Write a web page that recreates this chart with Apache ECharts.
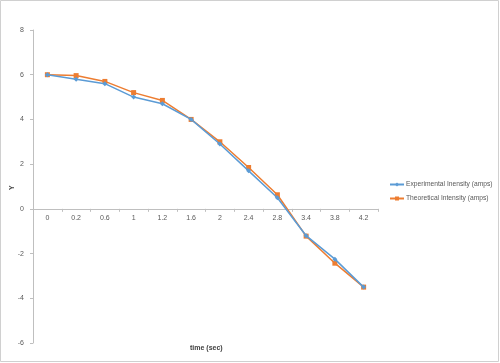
<!DOCTYPE html>
<html><head><meta charset="utf-8">
<script src="https://cdn.jsdelivr.net/npm/echarts@6/dist/echarts.min.js"></script>
<style>html,body{margin:0;padding:0;background:#fff}#c{width:500px;height:363px}</style>
</head><body><div id="c"></div>
<script>
const categories = ['0','0.2','0.6','1','1.2','1.6','2','2.4','2.8','3.4','3.8','4.2'];
const experimental = [6.0, 5.8, 5.6, 5.0, 4.7, 4.0, 2.9, 1.7, 0.5, -1.2, -2.25, -3.5];
const theoretical = [6.0, 5.96, 5.7, 5.2, 4.85, 4.0, 3.0, 1.85, 0.63, -1.22, -2.43, -3.5];
const yTicks = {min: -6, max: 8, interval: 2};

const chart = echarts.init(document.getElementById('c'), null, {renderer: 'canvas'});
const fam = 'Liberation Sans, Arial, sans-serif';
const labelStyle = {color: '#595959', fontSize: 7, fontFamily: fam};
const gridTop = 30, gridBottom = 20, H = 363;
const zeroOffset = -((H - gridBottom) - gridTop) * (0 - yTicks.min) / (yTicks.max - yTicks.min);
chart.setOption({
  animation: false,
  backgroundColor: '#fff',
  graphic: [
    {type: 'rect', shape: {x: 0.5, y: 0.5, width: 498, height: 361}, style: {fill: 'none', stroke: '#D0D0D0', lineWidth: 1}, silent: true},
    {type: 'text', left: 190, top: 345, style: {text: 'time (sec)', fill: '#404040', font: 'bold 7px ' + fam}, silent: true},
    {type: 'text', x: 9, y: 190, rotation: Math.PI / 2, style: {text: 'Y', fill: '#404040', font: 'bold 7px ' + fam}, silent: true}
  ],
  grid: {left: 33, right: 122, top: gridTop, bottom: gridBottom, containLabel: false, outerBoundsMode: 'none'},
  legend: {
    orient: 'vertical', left: 389, top: 181, padding: 0, itemWidth: 14, itemHeight: 5, itemGap: 7,
    textStyle: {color: '#595959', fontSize: 6.7, fontFamily: fam, padding: [0, 0, 0, -3]},
    data: ['Experimental Inensity (amps)', 'Theoretical Intensity (amps)']
  },
  xAxis: {
    type: 'category', data: categories, boundaryGap: true,
    offset: zeroOffset,
    axisLine: {onZero: false, lineStyle: {color: '#BFBFBF', width: 1}},
    axisTick: {show: true, length: 3, lineStyle: {color: '#BFBFBF'}},
    axisLabel: Object.assign({margin: 6, interval: 0}, labelStyle),
    splitLine: {show: false}
  },
  yAxis: {
    type: 'value', min: yTicks.min, max: yTicks.max, interval: yTicks.interval,
    axisLine: {show: true, lineStyle: {color: '#BFBFBF', width: 1}},
    axisTick: {show: true, length: 3, lineStyle: {color: '#BFBFBF'}},
    axisLabel: Object.assign({margin: 9}, labelStyle),
    splitLine: {show: false}
  },
  series: [
    {name: 'Experimental Inensity (amps)', type: 'line', data: experimental,
     symbol: 'diamond', symbolSize: 5, color: '#5B9BD5',
     lineStyle: {width: 1.5, color: '#5B9BD5'}, itemStyle: {color: '#5B9BD5'}, z: 3},
    {name: 'Theoretical Intensity (amps)', type: 'line', data: theoretical,
     symbol: 'rect', symbolSize: 5, color: '#ED7D31',
     lineStyle: {width: 1.5, color: '#ED7D31'}, itemStyle: {color: '#ED7D31'}, z: 2}
  ]
});
</script></body></html>
